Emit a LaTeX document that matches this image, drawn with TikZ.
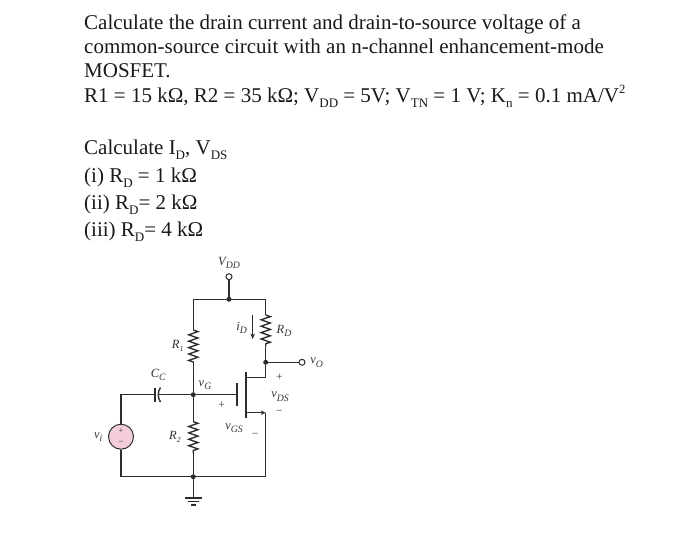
\documentclass[tikz,border=0pt]{standalone}
\usepackage{fontspec}
\setmainfont{Liberation Serif}
\usetikzlibrary{arrows.meta, decorations.pathmorphing}
\definecolor{inkwire}{RGB}{45,45,45}
\definecolor{sourcefill}{RGB}{244,205,218}
\newcommand{\lo}[1]{\raisebox{-0.28em}{\scalebox{0.62}{#1}}}
\newcommand{\hi}[1]{\raisebox{0.42em}{\scalebox{0.6}{#1}}}
\newcommand{\ksub}[1]{\raisebox{-0.25em}{\scalebox{0.78}{\textit{#1}}}}

\begin{document}
\begin{tikzpicture}[x=1pt, y=-1pt]
  \tikzstyle{textline} = [anchor=base west, inner sep=0pt, font=\fontsize{21}{24}\selectfont, text=black!90]
  \tikzstyle{wire} = [draw=inkwire, line width=1.35pt]
  \tikzstyle{resistor} = [wire, decorate, decoration={zigzag, segment length=6.4pt, amplitude=4.6pt}]
  \tikzstyle{junction} = [circle, fill=inkwire, inner sep=0pt, minimum size=5pt]
  \tikzstyle{terminal} = [circle, draw=inkwire, fill=white, line width=1pt, inner sep=0pt, minimum size=6pt]
  \tikzstyle{plate} = [draw=inkwire, line width=1.8pt]
  \tikzstyle{tag} = [inner sep=0pt, font=\fontsize{12.5}{14}\selectfont\itshape, text=black!80]
  \tikzstyle{sign} = [inner sep=0pt, font=\fontsize{11.5}{14}\selectfont, text=black!80]
  \tikzstyle{srcsign} = [inner sep=0pt, font=\fontsize{8.5}{10}\selectfont, text=black!80]
  \useasboundingbox (0,0) rectangle (700,533);
      % Place text
      \node [textline] (line1) at (84,29) {Calculate the drain current and drain-to-source voltage of a};
      \node [textline] (line2) at (84,53) {common-source circuit with an n-channel enhancement-mode};
      \node [textline] (line3) at (84,77) {MOSFET.};
      \node [textline] (line4) at (84,102) {R1 = 15 kΩ, R2 = 35 kΩ; V\lo{DD} = 5V; V\lo{TN} = 1 V; K\lo{n} = 0.1 mA/V\hi{2}};
      \node [textline] (line5) at (84,154) {Calculate I\lo{D}, V\lo{DS}};
      \node [textline] (line6) at (84,182) {(i) R\lo{D} = 1 kΩ};
      \node [textline] (line7) at (84,209) {(ii) R\lo{D}= 2 kΩ};
      \node [textline] (line8) at (84,236) {(iii) R\lo{D}= 4 kΩ};

      % Place circuit nodes
      \node [terminal] (vdd) at (229,276.7) {};
      \node [junction] (top) at (229,299.3) {};
      \coordinate (topleft) at (193.3,299.3);
      \coordinate (topright) at (265.7,299.3);
      \coordinate (r1a) at (193.3,330);
      \coordinate (r1b) at (193.3,362);
      \node [junction] (gate) at (193.3,394.7) {};
      \coordinate (r2a) at (193.3,421.7);
      \coordinate (r2b) at (193.3,453.3);
      \node [junction] (bottom) at (193.3,476.7) {};
      \coordinate (gnd) at (193.3,498);
      \coordinate (rda) at (265.7,315);
      \coordinate (rdb) at (265.7,346.7);
      \node [junction] (drain) at (265.7,362.3) {};
      \node [terminal] (vo) at (302,362.3) {};
      \coordinate (draintop) at (265.7,377.7);
      \coordinate (chdrain) at (245.7,377.7);
      \coordinate (chsource) at (245.7,412.7);
      \coordinate (source) at (265.7,412.7);
      \coordinate (botright) at (265.7,476.7);
      \coordinate (botleft) at (121,476.7);
      \coordinate (inleft) at (121,394.7);
      \coordinate (capa) at (155,394.7);
      \coordinate (capb) at (158.6,394.7);
      \coordinate (platea) at (237,383.3);
      \coordinate (plateb) at (237,406);
      \coordinate (platemid) at (237,394.7);
      \node [circle, draw=inkwire, fill=sourcefill, line width=1pt, minimum size=25pt, inner sep=0pt] (vsrc) at (121,436.7) {};

      %paths
      \path [wire] (vdd) -- (top);
      \path [wire] (r1a) -- (topleft) -- (topright) -- (rda);
      \path [resistor] (r1a) -- (r1b);
      \path [wire] (r1b) -- (gate);
      \path [wire] (gate) -- (r2a);
      \path [resistor] (r2a) -- (r2b);
      \path [wire] (r2b) -- (bottom);
      \path [wire] (bottom) -- (gnd);
      \path [resistor] (rda) -- (rdb);
      \path [wire] (rdb) -- (drain);
      \path [wire] (drain) -- (vo);
      \path [wire] (drain) -- (draintop) -- (chdrain);
      \path [wire] (source) -- (botright) -- (botleft) -- (vsrc);
      \path [wire] (vsrc) -- (inleft) -- (capa);
      \path [wire] (gate) -- (capb);
      \path [wire] (gate) -- (platemid);
      \path [plate] (platea) -- (plateb);
      \path [plate] (245.7,372.3) -- (245.7,418.3);
      \path [wire, -{Stealth[length=5pt,width=4.5pt]}] (chsource) -- (source);
      % capacitor plates
      \path [draw=inkwire, line width=1.4pt] (155,387.5) -- (155,402);
      \path [draw=inkwire, line width=1.4pt] (160.5,387.5) .. controls (157.5,392) and (157.5,397.5) .. (160.5,402);
      % ground bars
      \path [wire] (184.5,498) -- (202.1,498);
      \path [wire] (187.8,501.7) -- (198.8,501.7);
      \path [wire] (191,505) -- (195.6,505);
      \path [draw=inkwire, -{Stealth[length=5.5pt,width=4.5pt]}, line width=0.8pt] (252.7,315) -- (252.7,339);

      % labels
      \node [tag] (lvdd) at (229,263) {V\ksub{DD}};
      \node [tag] (lid) at (241.7,328) {i\ksub{D}};
      \node [tag] (lrd) at (284,331) {R\ksub{D}};
      \node [tag] (lr1) at (177.7,345.7) {R\lo{1}};
      \node [tag] (lr2) at (175,436.7) {R\lo{2}};
      \node [tag] (lcc) at (158.3,375) {C\ksub{C}};
      \node [tag] (lvg) at (205,385) {v\ksub{G}};
      \node [tag] (lvgs) at (234,428) {v\ksub{GS}};
      \node [tag] (lvds) at (280,396.7) {v\ksub{DS}};
      \node [tag] (lvo) at (316.7,362.7) {v\ksub{O}};
      \node [tag] (lvi) at (98.3,436.7) {v\ksub{i}};
      \node [sign] (gsplus) at (221.7,405) {+};
      \node [sign] (gsminus) at (255,435) {−};
      \node [sign] (dsplus) at (279.3,377) {+};
      \node [sign] (dsminus) at (279.3,412.7) {−};
      \node [srcsign] (srcplus) at (121,431) {+};
      \node [srcsign] (srcminus) at (121,443) {−};
\end{tikzpicture}
\end{document}
